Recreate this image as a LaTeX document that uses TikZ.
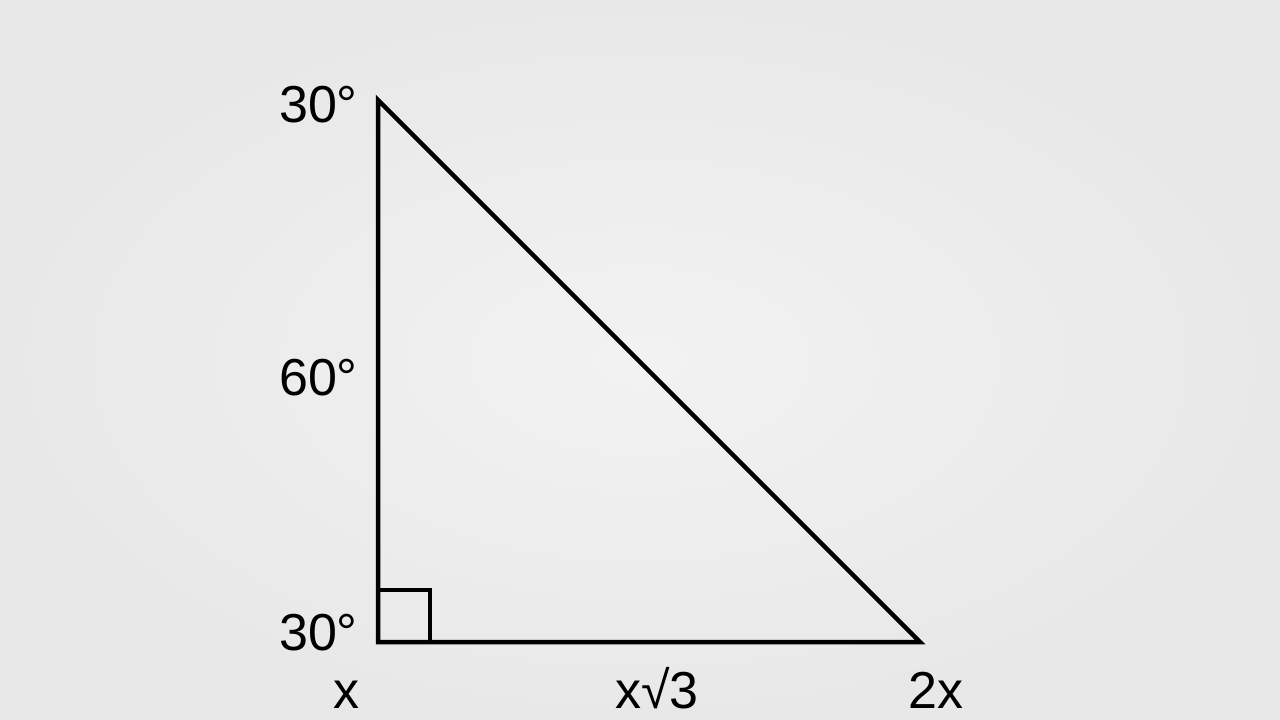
\documentclass[tikz,border=0pt]{standalone}
\usepackage{fontspec}
\setmainfont{Liberation Sans}

\tikzset{
	side/.style={line width=4.5pt, line join=miter, black},
	lbl/.style={inner sep=0pt, font=\fontsize{52}{60}\selectfont}
}

\begin{document}
\begin{tikzpicture}[x=1pt, y=-1pt]
	% Background, slightly lighter in the middle
	\shade[inner color=black!5, outer color=black!9] (0,0) rectangle (1280,720);
	\useasboundingbox (0,0) rectangle (1280,720);

	% Corners of the triangle
	\coordinate (A) at (378,100);
	\coordinate (C) at (378,642);
	\coordinate (B) at (920,642);

	% Draw the triangle and the right angle mark
	\draw[side] (A) -- (C) -- (B) -- cycle;
	\draw[line width=4pt] (378,590) -- (430,590) -- (430,642);

	% Angle labels on the left
	\node[lbl, anchor=base east] (top) at (358,122) {30°};
	\node[lbl, anchor=base east] (mid) at (358,395) {60°};
	\node[lbl, anchor=base east] (bot) at (358,650) {30°};

	% Side labels along the bottom
	\node[lbl, anchor=base] (sx) at (346,708) {x};
	\node[lbl, anchor=base] (sxr) at (657,708) {x√3};
	\node[lbl, anchor=base] (stwo) at (936,708) {2x};
\end{tikzpicture}
\end{document}
